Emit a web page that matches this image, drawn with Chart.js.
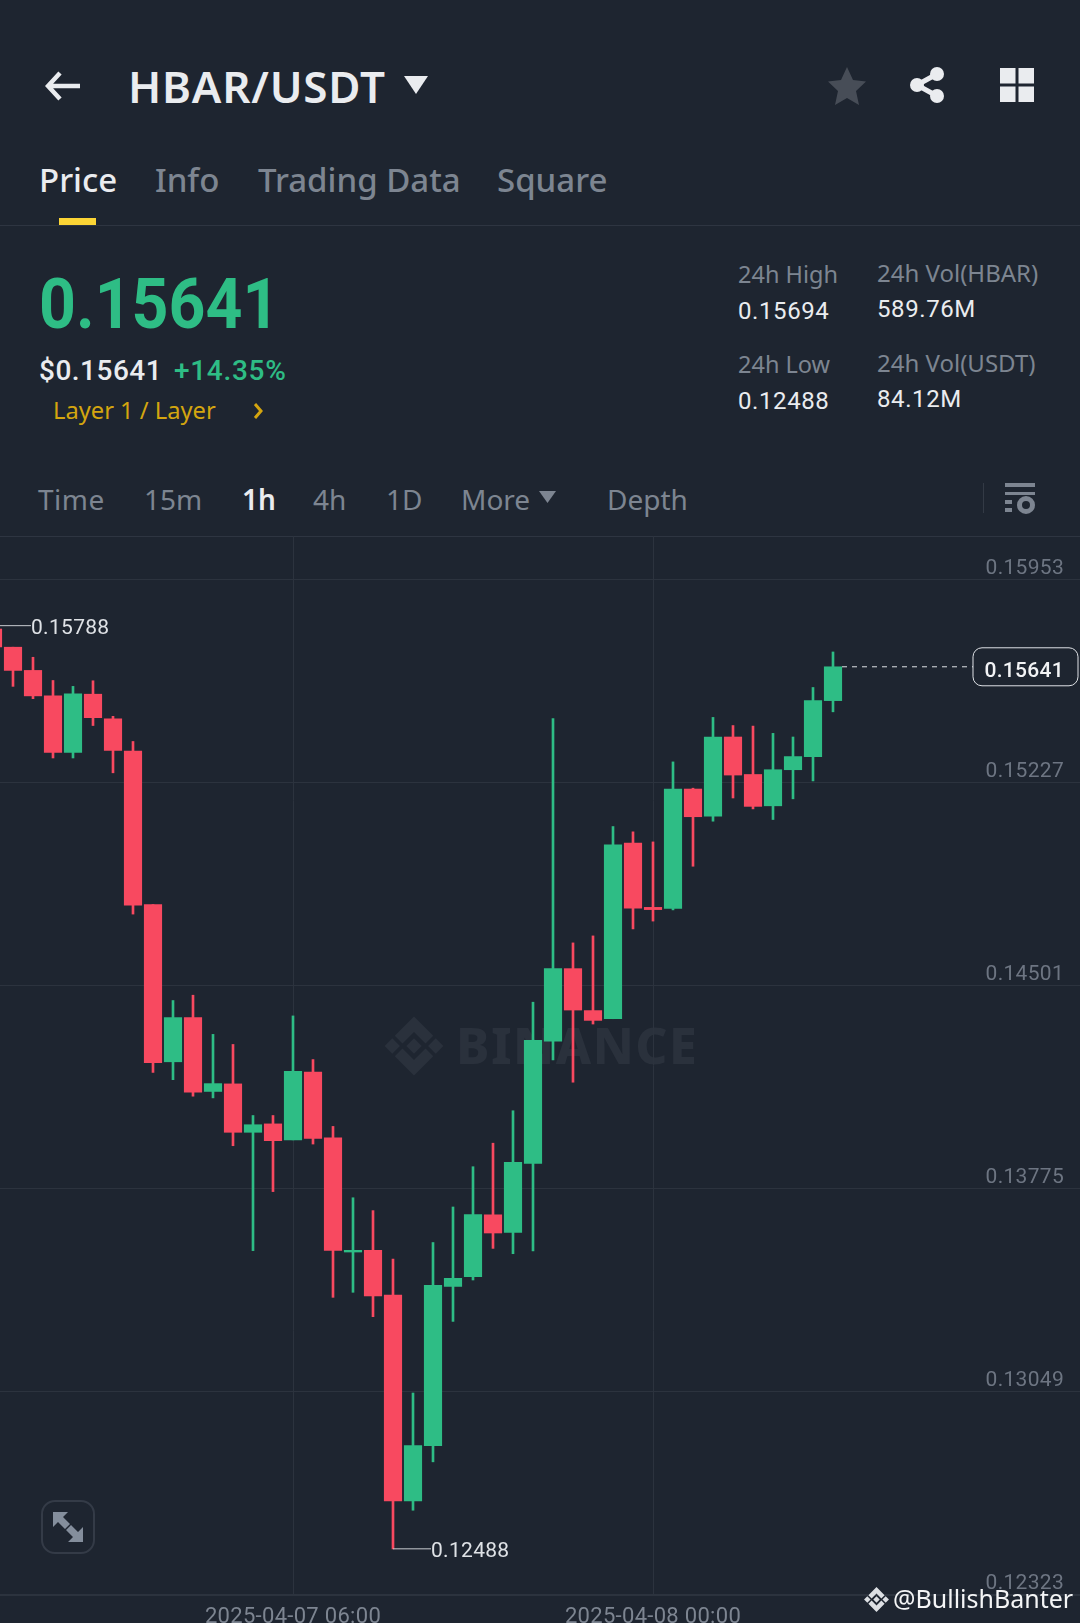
<!DOCTYPE html>
<html>
<head>
<meta charset="utf-8">
<title>HBAR/USDT</title>
<script src="https://cdn.jsdelivr.net/npm/chart.js@4"></script>
<style>
html, body { margin: 0; padding: 0; background: #1e2530; }
#page { position: relative; width: 1080px; height: 1623px; overflow: hidden; background: #1e2530; font-family: "Noto Sans", sans-serif; }
.t { position: absolute; transform: translateY(-50%); white-space: nowrap; line-height: 1; }
.num { font-family: Roboto, sans-serif; }
.gray { color: #7d8591; }
.white { color: #eaecef; }
.tab { font-size: 33px; font-weight: 500; }
.range { font-size: 28px; color: #7d8591; }
.stat { font-size: 24px; color: #7d8591; }
.val { font-size: 24px; color: #eaecef; font-family: Roboto, sans-serif; letter-spacing: 0.6px; }
.rule { position: absolute; left: 0; width: 1080px; height: 1px; background: #2e3541; }
svg { position: absolute; }
#chartBox { position: absolute; left: -7px; top: 536px; }
#priceChart { display: block; }
</style>
</head>
<body>
<div id="page">
  <svg style="left:45px;top:70px" width="36" height="32" viewBox="0 0 36 32"><path d="M15 3 L3 16 L15 29 M3 16 H35" fill="none" stroke="#eaecef" stroke-width="4.5"/></svg>
  <div class="t white" style="left:128px;top:86px;font-size:44px;font-weight:600;letter-spacing:0.8px">HBAR/USDT</div>
  <svg style="left:404px;top:76px" width="24" height="18"><polygon points="0,0 24,0 12,18" fill="#eaecef"/></svg>
  <svg style="left:827px;top:66px" width="40" height="40" viewBox="0 0 40 40"><polygon points="20,1 26,14 39,15.500 29,25 32,39 20,32 8,39 11,25 1,15.500 14,14" fill="#474d57"/></svg>
  <svg style="left:908px;top:65px" width="40" height="40" viewBox="0 0 40 40"><path d="M29 9 L9 20 L29 31" fill="none" stroke="#eaecef" stroke-width="5"/><circle cx="29" cy="9" r="7" fill="#eaecef"/><circle cx="9" cy="20" r="7" fill="#eaecef"/><circle cx="29" cy="31" r="7" fill="#eaecef"/></svg>
  <svg style="left:1000px;top:68px" width="34" height="34"><rect width="15.500" height="15.500" fill="#eaecef"/><rect x="18.500" width="15.500" height="15.500" fill="#eaecef"/><rect y="18.500" width="15.500" height="15.500" fill="#eaecef"/><rect x="18.500" y="18.500" width="15.500" height="15.500" fill="#eaecef"/></svg>

  <div class="t tab white" style="left:39px;top:179px">Price</div>
  <div class="t tab gray" style="left:155px;top:179px">Info</div>
  <div class="t tab gray" style="left:258px;top:179px">Trading Data</div>
  <div class="t tab gray" style="left:497px;top:179px">Square</div>
  <div style="position:absolute;left:59px;top:218px;width:37px;height:7px;background:#fcd535"></div>
  <div class="rule" style="top:225px"></div>

  <div class="t num" style="left:39px;top:304px;font-size:70px;font-weight:700;color:#2ebd85;transform:translateY(-50%) scaleX(0.92);transform-origin:left center">0.15641</div>
  <div class="t num white" style="left:39px;top:371px;font-size:28px;font-weight:500;letter-spacing:0.5px">$0.15641</div>
  <div class="t num" style="left:174px;top:371px;font-size:28px;font-weight:500;color:#2ebd85;letter-spacing:0.7px">+14.35%</div>
  <div class="t" style="left:53px;top:411px;font-size:23.700px;color:#d4a50f">Layer 1 / Layer</div>
  <svg style="left:252px;top:402px" width="12" height="18"><path d="M3 2 L9 9 L3 16" fill="none" stroke="#d4a50f" stroke-width="3"/></svg>

  <div class="t stat" style="left:738px;top:275px;font-size:23.500px">24h High</div>
  <div class="t val" style="left:738px;top:311px">0.15694</div>
  <div class="t stat" style="left:877px;top:273px">24h Vol(HBAR)</div>
  <div class="t val" style="left:877px;top:309px">589.76M</div>
  <div class="t stat" style="left:738px;top:365px;font-size:23.500px">24h Low</div>
  <div class="t val" style="left:738px;top:401px">0.12488</div>
  <div class="t stat" style="left:877px;top:363px">24h Vol(USDT)</div>
  <div class="t val" style="left:877px;top:399px">84.12M</div>

  <div class="t range" style="left:38px;top:499px;letter-spacing:0.5px">Time</div>
  <div class="t range" style="left:144px;top:499px">15m</div>
  <div class="t range" style="left:242px;top:499px;color:#eaecef;font-weight:600">1h</div>
  <div class="t range" style="left:313px;top:499px">4h</div>
  <div class="t range" style="left:386px;top:499px">1D</div>
  <div class="t range" style="left:461px;top:499px">More</div>
  <svg style="left:539px;top:491px" width="17" height="12"><polygon points="0,0 17,0 8.500,12" fill="#7d8591"/></svg>
  <div class="t range" style="left:607px;top:499px">Depth</div>
  <div style="position:absolute;left:983px;top:483px;width:1px;height:30px;background:#333a45"></div>
  <svg style="left:1005px;top:482px" width="31" height="32"><rect x="0" y="1" width="30" height="4" fill="#7d8591"/><rect x="0" y="10" width="30" height="3" fill="#7d8591"/><rect x="0" y="18" width="7" height="4" fill="#7d8591"/><rect x="0" y="26" width="7" height="4" fill="#7d8591"/><circle cx="21" cy="23" r="6.500" fill="none" stroke="#7d8591" stroke-width="5"/></svg>
  <div class="rule" style="top:536px"></div>

  <svg style="left:382px;top:1014px" width="64" height="64" viewBox="0 0 100 100"><g fill="#2a313c"><polygon points="50,38 62,50 50,62 38,50"/><polygon points="4,50 16,38 28,50 16,62"/><polygon points="72,50 84,38 96,50 84,62"/><polygon points="50,4 80,34 68,46 50,28 32,46 20,34"/><polygon points="50,96 80,66 68,54 50,72 32,54 20,66"/></g></svg>
  <div class="t" style="left:456px;top:1045px;font-size:50px;font-weight:800;color:#2a313c;letter-spacing:1.500px">BINANCE</div>

  <div id="chartBox"><canvas id="priceChart" width="1100" height="1087"></canvas></div>

  <svg style="left:41px;top:1500px" width="54" height="54" viewBox="0 0 54 54"><rect x="1" y="1" width="52" height="52" rx="13" fill="none" stroke="#343b47" stroke-width="2"/><g fill="#848e9c"><polygon points="12,12 27,12 22,17 29,24 24,29 17,22 12,27"/><polygon points="42,42 27,42 32,37 25,30 30,25 37,32 42,27"/></g></svg>

  <svg style="left:863px;top:1586px" width="27" height="27" viewBox="0 0 100 100"><g fill="#dcdfe3"><polygon points="50,38 62,50 50,62 38,50"/><polygon points="4,50 16,38 28,50 16,62"/><polygon points="72,50 84,38 96,50 84,62"/><polygon points="50,4 80,34 68,46 50,28 32,46 20,34"/><polygon points="50,96 80,66 68,54 50,72 32,54 20,66"/></g></svg>
  <div class="t" style="left:893px;top:1598px;font-size:25px;color:#f4f5f6">@BullishBanter</div>
</div>

<script>
// one hour candles
const categories = [
    "2025-04-06 15:00", "2025-04-06 16:00", "2025-04-06 17:00", "2025-04-06 18:00", "2025-04-06 19:00",
    "2025-04-06 20:00", "2025-04-06 21:00", "2025-04-06 22:00", "2025-04-06 23:00", "2025-04-07 00:00",
    "2025-04-07 01:00", "2025-04-07 02:00", "2025-04-07 03:00", "2025-04-07 04:00", "2025-04-07 05:00",
    "2025-04-07 06:00", "2025-04-07 07:00", "2025-04-07 08:00", "2025-04-07 09:00", "2025-04-07 10:00",
    "2025-04-07 11:00", "2025-04-07 12:00", "2025-04-07 13:00", "2025-04-07 14:00", "2025-04-07 15:00",
    "2025-04-07 16:00", "2025-04-07 17:00", "2025-04-07 18:00", "2025-04-07 19:00", "2025-04-07 20:00",
    "2025-04-07 21:00", "2025-04-07 22:00", "2025-04-07 23:00", "2025-04-08 00:00", "2025-04-08 01:00",
    "2025-04-08 02:00", "2025-04-08 03:00", "2025-04-08 04:00", "2025-04-08 05:00", "2025-04-08 06:00",
    "2025-04-08 07:00", "2025-04-08 08:00", "2025-04-08 09:00"
];
const opens = [
    0.15776, 0.15711, 0.15628, 0.15537, 0.15335, 0.15543, 0.15455, 0.15340, 0.14791, 0.14229,
    0.14387, 0.14123, 0.14150, 0.13977, 0.14007, 0.13950, 0.14192, 0.13957, 0.13549, 0.13555,
    0.13395, 0.12659, 0.12857, 0.13426, 0.13461, 0.13682, 0.13619, 0.13866, 0.14303, 0.14562,
    0.14412, 0.14383, 0.15011, 0.14781, 0.14777, 0.15204, 0.15107, 0.15390, 0.15256, 0.15144,
    0.15273, 0.15320, 0.15520
];
const closes = [
    0.15712, 0.15628, 0.15537, 0.15335, 0.15544, 0.15459, 0.15342, 0.14789, 0.14226, 0.14387,
    0.14120, 0.14151, 0.13977, 0.14004, 0.13947, 0.14195, 0.13955, 0.13555, 0.13555, 0.13392,
    0.12659, 0.12857, 0.13430, 0.13455, 0.13683, 0.13617, 0.13870, 0.14306, 0.14562, 0.14414,
    0.14377, 0.15005, 0.14778, 0.14773, 0.15204, 0.15105, 0.15390, 0.15254, 0.15142, 0.15273,
    0.15320, 0.15520, 0.15641
];
const highs = [
    0.15788, 0.15711, 0.15675, 0.15592, 0.15571, 0.15591, 0.15464, 0.15374, 0.14791, 0.14448,
    0.14467, 0.14327, 0.14291, 0.14037, 0.14037, 0.14393, 0.14237, 0.13998, 0.13743, 0.13697,
    0.13524, 0.13045, 0.13583, 0.13710, 0.13854, 0.13938, 0.14054, 0.14442, 0.15456, 0.14654,
    0.14679, 0.15070, 0.15051, 0.15015, 0.15301, 0.15207, 0.15460, 0.15431, 0.15429, 0.15403,
    0.15390, 0.15567, 0.15694
];
const lows = [
    0.15712, 0.15571, 0.15527, 0.15315, 0.15315, 0.15431, 0.15262, 0.14757, 0.14191, 0.14165,
    0.14106, 0.14100, 0.13929, 0.13554, 0.13765, 0.13950, 0.13935, 0.13387, 0.13405, 0.13318,
    0.12488, 0.12626, 0.12799, 0.13301, 0.13449, 0.13562, 0.13543, 0.13553, 0.14236, 0.14156,
    0.14364, 0.14383, 0.14704, 0.14732, 0.14772, 0.14928, 0.15089, 0.15172, 0.15133, 0.15095,
    0.15169, 0.15233, 0.15480
];
const yTickValues = [0.15953, 0.15227, 0.14501, 0.13775, 0.13049, 0.12323];
const xTickIndexes = [15, 33];
const highestPoint = { index: 0, price: 0.15788 };
const lowestPoint = { index: 20, price: 0.12488 };
const lastPrice = 0.15641;

const upColor = "#2ebd85";
const downColor = "#f84960";
const gridColor = "#2c333e";

const candleColors = closes.map((c, i) => (c >= opens[i] ? upColor : downColor));
// empty slots keep the space on the right of the last candle
const labels = categories.concat(new Array(13).fill(""));

const priceMarkers = {
    id: "priceMarkers",
    beforeDraw(chart) {
        chart.ctx.letterSpacing = "0.3px";
    },
    afterDatasetsDraw(chart) {
        const ctx = chart.ctx;
        const x = chart.scales.x;
        const y = chart.scales.y;
        ctx.save();
        ctx.font = "21px Roboto";
        ctx.textBaseline = "middle";
        ctx.textAlign = "left";

        // highest and lowest price, with a thin leader line
        const hy = y.getPixelForValue(highestPoint.price);
        ctx.strokeStyle = "#c9ccd1";
        ctx.lineWidth = 1;
        ctx.beginPath();
        ctx.moveTo(x.getPixelForValue(highestPoint.index), hy);
        ctx.lineTo(x.getPixelForValue(highestPoint.index) + 38, hy);
        ctx.stroke();
        ctx.fillStyle = "#dfe2e6";
        ctx.fillText(highestPoint.price.toFixed(5), x.getPixelForValue(highestPoint.index) + 38, hy + 3);

        const lx = x.getPixelForValue(lowestPoint.index);
        const ly = y.getPixelForValue(lowestPoint.price);
        ctx.beginPath();
        ctx.moveTo(lx, ly);
        ctx.lineTo(lx + 38, ly);
        ctx.stroke();
        ctx.fillText(lowestPoint.price.toFixed(5), lx + 38, ly + 3);

        // current price line and its label box
        const py = y.getPixelForValue(lastPrice);
        const lastX = x.getPixelForValue(closes.length - 1);
        ctx.strokeStyle = "#dfe2e6";
        ctx.setLineDash([5, 5]);
        ctx.beginPath();
        ctx.moveTo(lastX + 9, py);
        ctx.lineTo(980, py);
        ctx.stroke();
        ctx.setLineDash([]);
        ctx.fillStyle = "#1e2530";
        ctx.beginPath();
        ctx.roundRect(980, py - 19, 105, 38, 9);
        ctx.fill();
        ctx.stroke();
        ctx.fillStyle = "#f2f3f5";
        ctx.textAlign = "right";
        ctx.font = "500 21px Roboto";
        ctx.fillText(lastPrice.toFixed(5), 1071, py + 5);
        ctx.restore();
    }
};

document.addEventListener("DOMContentLoaded", function () {
    new Chart(document.getElementById("priceChart"), {
        type: "bar",
        data: {
            labels: labels,
            datasets: [
                {
                    label: "Open / Close",
                    data: opens.map((o, i) => [o, closes[i]]),
                    backgroundColor: candleColors,
                    barThickness: 17.5,
                    grouped: false,
                    order: 1
                },
                {
                    label: "Low / High",
                    data: lows.map((l, i) => [l, highs[i]]),
                    backgroundColor: candleColors,
                    barThickness: 2,
                    grouped: false,
                    order: 2
                }
            ]
        },
        options: {
            responsive: false,
            animation: false,
            devicePixelRatio: 1,
            layout: { padding: 0 },
            events: [],
            plugins: {
                legend: { display: false },
                tooltip: { enabled: false },
                title: { display: false }
            },
            scales: {
                x: {
                    type: "category",
                    offset: false,
                    afterBuildTicks: function (scale) {
                        scale.ticks = xTickIndexes.map((v) => ({ value: v }));
                    },
                    afterFit: function (scale) {
                        scale.height = 28;
                    },
                    grid: { offset: false, color: gridColor, drawTicks: false },
                    border: { display: false },
                    ticks: {
                        autoSkip: false,
                        maxRotation: 0,
                        padding: 9,
                        color: "#7d8591",
                        font: { family: "Roboto", size: 22 }
                    }
                },
                y: {
                    position: "right",
                    min: 0.12323,
                    max: 0.161085,
                    afterBuildTicks: function (scale) {
                        scale.ticks = yTickValues.map((v) => ({ value: v }));
                    },
                    afterFit: function (scale) {
                        scale.width = 0;
                    },
                    grid: {
                        color: gridColor,
                        drawTicks: false,
                        lineWidth: (c) => (c.tick && c.tick.value === yTickValues[yTickValues.length - 1] ? 2 : 1)
                    },
                    border: { display: false },
                    ticks: {
                        mirror: true,
                        padding: -29,
                        labelOffset: -11,
                        color: "#6d7582",
                        font: { family: "Roboto", size: 21 },
                        callback: function (value) {
                            return value.toFixed(5);
                        }
                    }
                }
            }
        },
        plugins: [priceMarkers]
    });
});
</script>
</body>
</html>
